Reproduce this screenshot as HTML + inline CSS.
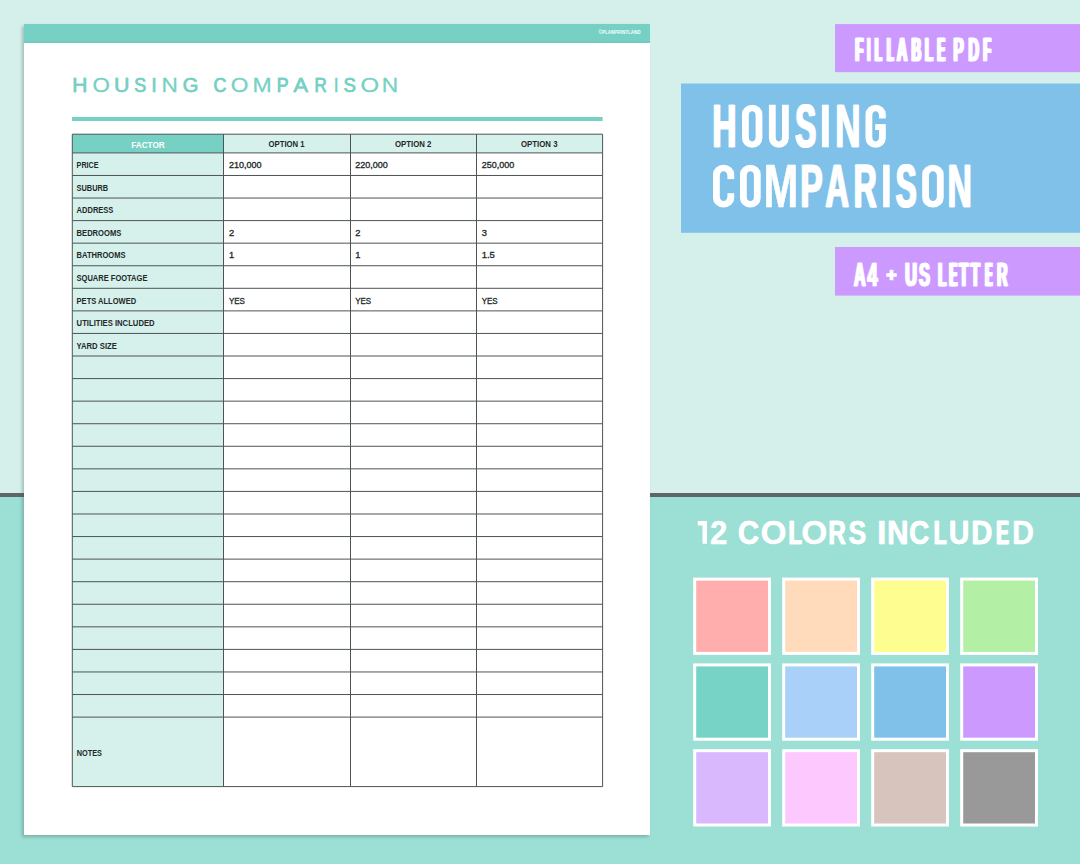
<!DOCTYPE html>
<html><head><meta charset="utf-8"><title>Housing Comparison</title>
<style>
html,body{margin:0;padding:0;}
body{width:1080px;height:864px;overflow:hidden;position:relative;background:#d5f0eb;font-family:"Liberation Sans",sans-serif;}
.abs{position:absolute;}
#bot{left:0;top:497px;width:1080px;height:367px;background:#9cdfd5;}
#line{left:0;top:493px;width:1080px;height:4px;background:#5f6766;}
#page{left:24px;top:24px;width:626px;height:811px;background:#fff;box-shadow:-2px 2px 3px rgba(60,72,72,0.3);}
#bar{left:0;top:0;width:626px;height:18.5px;background:#76d1c4;}
svg{position:absolute;left:0;top:0;}
svg text{font-family:"Liberation Sans",sans-serif;}
</style></head>
<body>
<div class="abs" id="bot"></div>
<div class="abs" id="line"></div>
<div class="abs" id="page"><div class="abs" id="bar"></div></div>
<svg width="1080" height="864" viewBox="0 0 1080 864">
<text x="598.6" y="34.4" font-size="4.5" font-weight="bold" fill="#f4fffd" textLength="42" lengthAdjust="spacingAndGlyphs">©PLANPRINTLAND</text>
<rect x="24" y="41.3" width="626" height="1.1" fill="#6cc6b9" opacity="0.8"/>
<text transform="translate(72.01 91.55) scale(1.0502 1)" font-size="20.20" font-weight="normal" fill="#76d1c4" stroke="#76d1c4" stroke-width="0.3" vector-effect="non-scaling-stroke" stroke-linejoin="round">H</text>
<text transform="translate(72.16 91.55) scale(1.0502 1)" font-size="20.20" font-weight="normal" fill="#76d1c4" stroke="#76d1c4" stroke-width="0.3" vector-effect="non-scaling-stroke" stroke-linejoin="round">H</text>
<text transform="translate(92.39 91.55) scale(1.1062 1)" font-size="20.20" font-weight="normal" fill="#76d1c4" stroke="#76d1c4" stroke-width="0.3" vector-effect="non-scaling-stroke" stroke-linejoin="round">O</text>
<text transform="translate(113.90 91.55) scale(1.0609 1)" font-size="20.20" font-weight="normal" fill="#76d1c4" stroke="#76d1c4" stroke-width="0.3" vector-effect="non-scaling-stroke" stroke-linejoin="round">U</text>
<text transform="translate(114.02 91.55) scale(1.0609 1)" font-size="20.20" font-weight="normal" fill="#76d1c4" stroke="#76d1c4" stroke-width="0.3" vector-effect="non-scaling-stroke" stroke-linejoin="round">U</text>
<text transform="translate(133.92 91.55) scale(0.9005 1)" font-size="20.20" font-weight="normal" fill="#76d1c4" stroke="#76d1c4" stroke-width="0.3" vector-effect="non-scaling-stroke" stroke-linejoin="round">S</text>
<text transform="translate(134.35 91.55) scale(0.9005 1)" font-size="20.20" font-weight="normal" fill="#76d1c4" stroke="#76d1c4" stroke-width="0.3" vector-effect="non-scaling-stroke" stroke-linejoin="round">S</text>
<text transform="translate(150.87 91.55) scale(1.1676 1)" font-size="20.20" font-weight="normal" fill="#76d1c4" stroke="#76d1c4" stroke-width="0.3" vector-effect="non-scaling-stroke" stroke-linejoin="round">I</text>
<text transform="translate(161.60 91.55) scale(1.1191 1)" font-size="20.20" font-weight="normal" fill="#76d1c4" stroke="#76d1c4" stroke-width="0.3" vector-effect="non-scaling-stroke" stroke-linejoin="round">N</text>
<text transform="translate(182.43 91.55) scale(1.0061 1)" font-size="20.20" font-weight="normal" fill="#76d1c4" stroke="#76d1c4" stroke-width="0.3" vector-effect="non-scaling-stroke" stroke-linejoin="round">G</text>
<text transform="translate(182.66 91.55) scale(1.0061 1)" font-size="20.20" font-weight="normal" fill="#76d1c4" stroke="#76d1c4" stroke-width="0.3" vector-effect="non-scaling-stroke" stroke-linejoin="round">G</text>
<text transform="translate(213.24 91.55) scale(0.8870 1)" font-size="20.20" font-weight="normal" fill="#76d1c4" stroke="#76d1c4" stroke-width="0.3" vector-effect="non-scaling-stroke" stroke-linejoin="round">C</text>
<text transform="translate(213.69 91.55) scale(0.8870 1)" font-size="20.20" font-weight="normal" fill="#76d1c4" stroke="#76d1c4" stroke-width="0.3" vector-effect="non-scaling-stroke" stroke-linejoin="round">C</text>
<text transform="translate(230.68 91.55) scale(1.1230 1)" font-size="20.20" font-weight="normal" fill="#76d1c4" stroke="#76d1c4" stroke-width="0.3" vector-effect="non-scaling-stroke" stroke-linejoin="round">O</text>
<text transform="translate(252.56 91.55) scale(1.1395 1)" font-size="20.20" font-weight="normal" fill="#76d1c4" stroke="#76d1c4" stroke-width="0.3" vector-effect="non-scaling-stroke" stroke-linejoin="round">M</text>
<text transform="translate(276.60 91.55) scale(0.8770 1)" font-size="20.20" font-weight="normal" fill="#76d1c4" stroke="#76d1c4" stroke-width="0.3" vector-effect="non-scaling-stroke" stroke-linejoin="round">P</text>
<text transform="translate(277.07 91.55) scale(0.8770 1)" font-size="20.20" font-weight="normal" fill="#76d1c4" stroke="#76d1c4" stroke-width="0.3" vector-effect="non-scaling-stroke" stroke-linejoin="round">P</text>
<text transform="translate(293.31 91.55) scale(1.0920 1)" font-size="20.20" font-weight="normal" fill="#76d1c4" stroke="#76d1c4" stroke-width="0.3" vector-effect="non-scaling-stroke" stroke-linejoin="round">A</text>
<text transform="translate(293.38 91.55) scale(1.0920 1)" font-size="20.20" font-weight="normal" fill="#76d1c4" stroke="#76d1c4" stroke-width="0.3" vector-effect="non-scaling-stroke" stroke-linejoin="round">A</text>
<text transform="translate(314.26 91.55) scale(0.8385 1)" font-size="20.20" font-weight="normal" fill="#76d1c4" stroke="#76d1c4" stroke-width="0.3" vector-effect="non-scaling-stroke" stroke-linejoin="round">R</text>
<text transform="translate(314.80 91.55) scale(0.8385 1)" font-size="20.20" font-weight="normal" fill="#76d1c4" stroke="#76d1c4" stroke-width="0.3" vector-effect="non-scaling-stroke" stroke-linejoin="round">R</text>
<text transform="translate(333.57 91.55) scale(0.9553 1)" font-size="20.20" font-weight="normal" fill="#76d1c4" stroke="#76d1c4" stroke-width="0.3" vector-effect="non-scaling-stroke" stroke-linejoin="round">I</text>
<text transform="translate(343.31 91.55) scale(0.9210 1)" font-size="20.20" font-weight="normal" fill="#76d1c4" stroke="#76d1c4" stroke-width="0.3" vector-effect="non-scaling-stroke" stroke-linejoin="round">S</text>
<text transform="translate(343.69 91.55) scale(0.9210 1)" font-size="20.20" font-weight="normal" fill="#76d1c4" stroke="#76d1c4" stroke-width="0.3" vector-effect="non-scaling-stroke" stroke-linejoin="round">S</text>
<text transform="translate(360.62 91.55) scale(1.1819 1)" font-size="20.20" font-weight="normal" fill="#76d1c4" stroke="#76d1c4" stroke-width="0.3" vector-effect="non-scaling-stroke" stroke-linejoin="round">O</text>
<text transform="translate(381.69 91.55) scale(1.1244 1)" font-size="20.20" font-weight="normal" fill="#76d1c4" stroke="#76d1c4" stroke-width="0.3" vector-effect="non-scaling-stroke" stroke-linejoin="round">N</text>
<rect x="72" y="117" width="530.6" height="4" fill="#76d1c4"/>
<rect x="72.3" y="134.2" width="151.2" height="18.700000000000017" fill="#76d1c4"/>
<rect x="223.5" y="134.2" width="379.1" height="18.700000000000017" fill="#d6f0ec"/>
<rect x="72.3" y="152.9" width="151.2" height="633.7" fill="#d6f0ec"/>
<line x1="72.3" y1="134.20" x2="602.6" y2="134.20" stroke="#4d5554" stroke-width="1.0"/>
<line x1="72.3" y1="152.90" x2="602.6" y2="152.90" stroke="#4d5554" stroke-width="1.0"/>
<line x1="72.3" y1="175.47" x2="602.6" y2="175.47" stroke="#4d5554" stroke-width="1.0"/>
<line x1="72.3" y1="198.04" x2="602.6" y2="198.04" stroke="#4d5554" stroke-width="1.0"/>
<line x1="72.3" y1="220.60" x2="602.6" y2="220.60" stroke="#4d5554" stroke-width="1.0"/>
<line x1="72.3" y1="243.17" x2="602.6" y2="243.17" stroke="#4d5554" stroke-width="1.0"/>
<line x1="72.3" y1="265.74" x2="602.6" y2="265.74" stroke="#4d5554" stroke-width="1.0"/>
<line x1="72.3" y1="288.31" x2="602.6" y2="288.31" stroke="#4d5554" stroke-width="1.0"/>
<line x1="72.3" y1="310.88" x2="602.6" y2="310.88" stroke="#4d5554" stroke-width="1.0"/>
<line x1="72.3" y1="333.44" x2="602.6" y2="333.44" stroke="#4d5554" stroke-width="1.0"/>
<line x1="72.3" y1="356.01" x2="602.6" y2="356.01" stroke="#4d5554" stroke-width="1.0"/>
<line x1="72.3" y1="378.58" x2="602.6" y2="378.58" stroke="#4d5554" stroke-width="1.0"/>
<line x1="72.3" y1="401.15" x2="602.6" y2="401.15" stroke="#4d5554" stroke-width="1.0"/>
<line x1="72.3" y1="423.72" x2="602.6" y2="423.72" stroke="#4d5554" stroke-width="1.0"/>
<line x1="72.3" y1="446.28" x2="602.6" y2="446.28" stroke="#4d5554" stroke-width="1.0"/>
<line x1="72.3" y1="468.85" x2="602.6" y2="468.85" stroke="#4d5554" stroke-width="1.0"/>
<line x1="72.3" y1="491.42" x2="602.6" y2="491.42" stroke="#4d5554" stroke-width="1.0"/>
<line x1="72.3" y1="513.99" x2="602.6" y2="513.99" stroke="#4d5554" stroke-width="1.0"/>
<line x1="72.3" y1="536.56" x2="602.6" y2="536.56" stroke="#4d5554" stroke-width="1.0"/>
<line x1="72.3" y1="559.12" x2="602.6" y2="559.12" stroke="#4d5554" stroke-width="1.0"/>
<line x1="72.3" y1="581.69" x2="602.6" y2="581.69" stroke="#4d5554" stroke-width="1.0"/>
<line x1="72.3" y1="604.26" x2="602.6" y2="604.26" stroke="#4d5554" stroke-width="1.0"/>
<line x1="72.3" y1="626.83" x2="602.6" y2="626.83" stroke="#4d5554" stroke-width="1.0"/>
<line x1="72.3" y1="649.40" x2="602.6" y2="649.40" stroke="#4d5554" stroke-width="1.0"/>
<line x1="72.3" y1="671.96" x2="602.6" y2="671.96" stroke="#4d5554" stroke-width="1.0"/>
<line x1="72.3" y1="694.53" x2="602.6" y2="694.53" stroke="#4d5554" stroke-width="1.0"/>
<line x1="72.3" y1="717.10" x2="602.6" y2="717.10" stroke="#4d5554" stroke-width="1.0"/>
<line x1="72.3" y1="786.60" x2="602.6" y2="786.60" stroke="#4d5554" stroke-width="1.0"/>
<line x1="72.3" y1="134.2" x2="72.3" y2="786.6" stroke="#4d5554" stroke-width="1.0"/>
<line x1="223.5" y1="134.2" x2="223.5" y2="786.6" stroke="#4d5554" stroke-width="1.0"/>
<line x1="350.5" y1="134.2" x2="350.5" y2="786.6" stroke="#4d5554" stroke-width="1.0"/>
<line x1="476.5" y1="134.2" x2="476.5" y2="786.6" stroke="#4d5554" stroke-width="1.0"/>
<line x1="602.6" y1="134.2" x2="602.6" y2="786.6" stroke="#4d5554" stroke-width="1.0"/>
<text x="131.3" y="148" font-size="8.2" font-weight="bold" fill="#ffffff" text-anchor="start" textLength="33.4" lengthAdjust="spacingAndGlyphs">FACTOR</text>
<text x="268.5" y="147.4" font-size="8.2" font-weight="bold" fill="#222a29" text-anchor="start" textLength="36.1" lengthAdjust="spacingAndGlyphs">OPTION 1</text>
<text x="395.0" y="147.4" font-size="8.2" font-weight="bold" fill="#222a29" text-anchor="start" textLength="36.3" lengthAdjust="spacingAndGlyphs">OPTION 2</text>
<text x="521.0" y="147.4" font-size="8.2" font-weight="bold" fill="#222a29" text-anchor="start" textLength="36.5" lengthAdjust="spacingAndGlyphs">OPTION 3</text>
<text x="76.6" y="168.10" font-size="8.2" font-weight="bold" fill="#222a29" text-anchor="start" textLength="22" lengthAdjust="spacingAndGlyphs">PRICE</text>
<text x="228.9" y="168.10" font-size="8.2" font-weight="normal" fill="#222a29" text-anchor="start" textLength="32.6" lengthAdjust="spacingAndGlyphs" stroke="#222a29" stroke-width="0.3">210,000</text>
<text x="355.2" y="168.10" font-size="8.2" font-weight="normal" fill="#222a29" text-anchor="start" textLength="32.6" lengthAdjust="spacingAndGlyphs" stroke="#222a29" stroke-width="0.3">220,000</text>
<text x="481.7" y="168.10" font-size="8.2" font-weight="normal" fill="#222a29" text-anchor="start" textLength="32.6" lengthAdjust="spacingAndGlyphs" stroke="#222a29" stroke-width="0.3">250,000</text>
<text x="76.6" y="190.67" font-size="8.2" font-weight="bold" fill="#222a29" text-anchor="start" textLength="31.5" lengthAdjust="spacingAndGlyphs">SUBURB</text>
<text x="76.6" y="213.24" font-size="8.2" font-weight="bold" fill="#222a29" text-anchor="start" textLength="36.8" lengthAdjust="spacingAndGlyphs">ADDRESS</text>
<text x="76.6" y="235.80" font-size="8.2" font-weight="bold" fill="#222a29" text-anchor="start" textLength="44.7" lengthAdjust="spacingAndGlyphs">BEDROOMS</text>
<text x="228.9" y="235.80" font-size="8.2" font-weight="normal" fill="#222a29" text-anchor="start" textLength="5.2" lengthAdjust="spacingAndGlyphs" stroke="#222a29" stroke-width="0.3">2</text>
<text x="355.2" y="235.80" font-size="8.2" font-weight="normal" fill="#222a29" text-anchor="start" textLength="5.2" lengthAdjust="spacingAndGlyphs" stroke="#222a29" stroke-width="0.3">2</text>
<text x="481.7" y="235.80" font-size="8.2" font-weight="normal" fill="#222a29" text-anchor="start" textLength="5.2" lengthAdjust="spacingAndGlyphs" stroke="#222a29" stroke-width="0.3">3</text>
<text x="76.6" y="258.37" font-size="8.2" font-weight="bold" fill="#222a29" text-anchor="start" textLength="49" lengthAdjust="spacingAndGlyphs">BATHROOMS</text>
<text x="228.9" y="258.37" font-size="8.2" font-weight="normal" fill="#222a29" text-anchor="start" textLength="5.2" lengthAdjust="spacingAndGlyphs" stroke="#222a29" stroke-width="0.3">1</text>
<text x="355.2" y="258.37" font-size="8.2" font-weight="normal" fill="#222a29" text-anchor="start" textLength="5.2" lengthAdjust="spacingAndGlyphs" stroke="#222a29" stroke-width="0.3">1</text>
<text x="481.7" y="258.37" font-size="8.2" font-weight="normal" fill="#222a29" text-anchor="start" textLength="13.2" lengthAdjust="spacingAndGlyphs" stroke="#222a29" stroke-width="0.3">1.5</text>
<text x="76.6" y="280.94" font-size="8.2" font-weight="bold" fill="#222a29" text-anchor="start" textLength="70.8" lengthAdjust="spacingAndGlyphs">SQUARE FOOTAGE</text>
<text x="76.6" y="303.51" font-size="8.2" font-weight="bold" fill="#222a29" text-anchor="start" textLength="59.5" lengthAdjust="spacingAndGlyphs">PETS ALLOWED</text>
<text x="228.9" y="303.51" font-size="8.2" font-weight="normal" fill="#222a29" text-anchor="start" textLength="16.0" lengthAdjust="spacingAndGlyphs" stroke="#222a29" stroke-width="0.3">YES</text>
<text x="355.2" y="303.51" font-size="8.2" font-weight="normal" fill="#222a29" text-anchor="start" textLength="16.0" lengthAdjust="spacingAndGlyphs" stroke="#222a29" stroke-width="0.3">YES</text>
<text x="481.7" y="303.51" font-size="8.2" font-weight="normal" fill="#222a29" text-anchor="start" textLength="16.0" lengthAdjust="spacingAndGlyphs" stroke="#222a29" stroke-width="0.3">YES</text>
<text x="76.6" y="326.08" font-size="8.2" font-weight="bold" fill="#222a29" text-anchor="start" textLength="78" lengthAdjust="spacingAndGlyphs">UTILITIES INCLUDED</text>
<text x="76.6" y="348.64" font-size="8.2" font-weight="bold" fill="#222a29" text-anchor="start" textLength="40.3" lengthAdjust="spacingAndGlyphs">YARD SIZE</text>
<text x="76.7" y="755.7" font-size="8.2" font-weight="bold" fill="#222a29" text-anchor="start" textLength="25.3" lengthAdjust="spacingAndGlyphs">NOTES</text>
<rect x="835" y="24.1" width="245" height="48.1" fill="#cc99ff"/>
<rect x="681" y="83.5" width="399" height="149.3" fill="#80c1ea"/>
<rect x="835" y="247" width="245" height="48.6" fill="#cc99ff"/>
<text transform="translate(854.25 60.60) scale(0.3893 1)" font-size="32.70" font-weight="bold" fill="#ffffff" stroke="#ffffff" stroke-width="0.4" vector-effect="non-scaling-stroke" stroke-linejoin="round">F</text>
<text transform="translate(855.32 60.60) scale(0.3893 1)" font-size="32.70" font-weight="bold" fill="#ffffff" stroke="#ffffff" stroke-width="0.4" vector-effect="non-scaling-stroke" stroke-linejoin="round">F</text>
<text transform="translate(856.39 60.60) scale(0.3893 1)" font-size="32.70" font-weight="bold" fill="#ffffff" stroke="#ffffff" stroke-width="0.4" vector-effect="non-scaling-stroke" stroke-linejoin="round">F</text>
<text transform="translate(865.62 60.60) scale(0.7217 1)" font-size="32.70" font-weight="bold" fill="#ffffff" stroke="#ffffff" stroke-width="0.4" vector-effect="non-scaling-stroke" stroke-linejoin="round">I</text>
<text transform="translate(873.79 60.60) scale(0.3248 1)" font-size="32.70" font-weight="bold" fill="#ffffff" stroke="#ffffff" stroke-width="0.4" vector-effect="non-scaling-stroke" stroke-linejoin="round">L</text>
<text transform="translate(875.01 60.60) scale(0.3248 1)" font-size="32.70" font-weight="bold" fill="#ffffff" stroke="#ffffff" stroke-width="0.4" vector-effect="non-scaling-stroke" stroke-linejoin="round">L</text>
<text transform="translate(876.24 60.60) scale(0.3248 1)" font-size="32.70" font-weight="bold" fill="#ffffff" stroke="#ffffff" stroke-width="0.4" vector-effect="non-scaling-stroke" stroke-linejoin="round">L</text>
<text transform="translate(886.06 60.60) scale(0.2915 1)" font-size="32.70" font-weight="bold" fill="#ffffff" stroke="#ffffff" stroke-width="0.4" vector-effect="non-scaling-stroke" stroke-linejoin="round">L</text>
<text transform="translate(887.37 60.60) scale(0.2915 1)" font-size="32.70" font-weight="bold" fill="#ffffff" stroke="#ffffff" stroke-width="0.4" vector-effect="non-scaling-stroke" stroke-linejoin="round">L</text>
<text transform="translate(888.67 60.60) scale(0.2915 1)" font-size="32.70" font-weight="bold" fill="#ffffff" stroke="#ffffff" stroke-width="0.4" vector-effect="non-scaling-stroke" stroke-linejoin="round">L</text>
<text transform="translate(896.05 60.60) scale(0.4311 1)" font-size="32.70" font-weight="bold" fill="#ffffff" stroke="#ffffff" stroke-width="0.4" vector-effect="non-scaling-stroke" stroke-linejoin="round">A</text>
<text transform="translate(897.02 60.60) scale(0.4311 1)" font-size="32.70" font-weight="bold" fill="#ffffff" stroke="#ffffff" stroke-width="0.4" vector-effect="non-scaling-stroke" stroke-linejoin="round">A</text>
<text transform="translate(897.99 60.60) scale(0.4311 1)" font-size="32.70" font-weight="bold" fill="#ffffff" stroke="#ffffff" stroke-width="0.4" vector-effect="non-scaling-stroke" stroke-linejoin="round">A</text>
<text transform="translate(910.58 60.60) scale(0.3988 1)" font-size="32.70" font-weight="bold" fill="#ffffff" stroke="#ffffff" stroke-width="0.4" vector-effect="non-scaling-stroke" stroke-linejoin="round">B</text>
<text transform="translate(911.63 60.60) scale(0.3988 1)" font-size="32.70" font-weight="bold" fill="#ffffff" stroke="#ffffff" stroke-width="0.4" vector-effect="non-scaling-stroke" stroke-linejoin="round">B</text>
<text transform="translate(912.67 60.60) scale(0.3988 1)" font-size="32.70" font-weight="bold" fill="#ffffff" stroke="#ffffff" stroke-width="0.4" vector-effect="non-scaling-stroke" stroke-linejoin="round">B</text>
<text transform="translate(923.93 60.60) scale(0.3956 1)" font-size="32.70" font-weight="bold" fill="#ffffff" stroke="#ffffff" stroke-width="0.4" vector-effect="non-scaling-stroke" stroke-linejoin="round">L</text>
<text transform="translate(924.99 60.60) scale(0.3956 1)" font-size="32.70" font-weight="bold" fill="#ffffff" stroke="#ffffff" stroke-width="0.4" vector-effect="non-scaling-stroke" stroke-linejoin="round">L</text>
<text transform="translate(926.05 60.60) scale(0.3956 1)" font-size="32.70" font-weight="bold" fill="#ffffff" stroke="#ffffff" stroke-width="0.4" vector-effect="non-scaling-stroke" stroke-linejoin="round">L</text>
<text transform="translate(936.14 60.60) scale(0.3463 1)" font-size="32.70" font-weight="bold" fill="#ffffff" stroke="#ffffff" stroke-width="0.4" vector-effect="non-scaling-stroke" stroke-linejoin="round">E</text>
<text transform="translate(937.32 60.60) scale(0.3463 1)" font-size="32.70" font-weight="bold" fill="#ffffff" stroke="#ffffff" stroke-width="0.4" vector-effect="non-scaling-stroke" stroke-linejoin="round">E</text>
<text transform="translate(938.49 60.60) scale(0.3463 1)" font-size="32.70" font-weight="bold" fill="#ffffff" stroke="#ffffff" stroke-width="0.4" vector-effect="non-scaling-stroke" stroke-linejoin="round">E</text>
<text transform="translate(952.46 60.60) scale(0.4733 1)" font-size="32.70" font-weight="bold" fill="#ffffff" stroke="#ffffff" stroke-width="0.4" vector-effect="non-scaling-stroke" stroke-linejoin="round">P</text>
<text transform="translate(953.33 60.60) scale(0.4733 1)" font-size="32.70" font-weight="bold" fill="#ffffff" stroke="#ffffff" stroke-width="0.4" vector-effect="non-scaling-stroke" stroke-linejoin="round">P</text>
<text transform="translate(954.20 60.60) scale(0.4733 1)" font-size="32.70" font-weight="bold" fill="#ffffff" stroke="#ffffff" stroke-width="0.4" vector-effect="non-scaling-stroke" stroke-linejoin="round">P</text>
<text transform="translate(967.51 60.60) scale(0.4515 1)" font-size="32.70" font-weight="bold" fill="#ffffff" stroke="#ffffff" stroke-width="0.4" vector-effect="non-scaling-stroke" stroke-linejoin="round">D</text>
<text transform="translate(968.43 60.60) scale(0.4515 1)" font-size="32.70" font-weight="bold" fill="#ffffff" stroke="#ffffff" stroke-width="0.4" vector-effect="non-scaling-stroke" stroke-linejoin="round">D</text>
<text transform="translate(969.36 60.60) scale(0.4515 1)" font-size="32.70" font-weight="bold" fill="#ffffff" stroke="#ffffff" stroke-width="0.4" vector-effect="non-scaling-stroke" stroke-linejoin="round">D</text>
<text transform="translate(982.29 60.60) scale(0.3724 1)" font-size="32.70" font-weight="bold" fill="#ffffff" stroke="#ffffff" stroke-width="0.4" vector-effect="non-scaling-stroke" stroke-linejoin="round">F</text>
<text transform="translate(983.40 60.60) scale(0.3724 1)" font-size="32.70" font-weight="bold" fill="#ffffff" stroke="#ffffff" stroke-width="0.4" vector-effect="non-scaling-stroke" stroke-linejoin="round">F</text>
<text transform="translate(984.51 60.60) scale(0.3724 1)" font-size="32.70" font-weight="bold" fill="#ffffff" stroke="#ffffff" stroke-width="0.4" vector-effect="non-scaling-stroke" stroke-linejoin="round">F</text>
<text transform="translate(711.87 147.40) scale(0.5423 1)" font-size="61.34" font-weight="bold" fill="#ffffff" stroke="#ffffff" stroke-width="0.6" vector-effect="non-scaling-stroke" stroke-linejoin="round">H</text>
<text transform="translate(713.02 147.40) scale(0.5423 1)" font-size="61.34" font-weight="bold" fill="#ffffff" stroke="#ffffff" stroke-width="0.6" vector-effect="non-scaling-stroke" stroke-linejoin="round">H</text>
<text transform="translate(794.50 147.40) scale(0.5109 1)" font-size="61.34" font-weight="bold" fill="#ffffff" stroke="#ffffff" stroke-width="0.6" vector-effect="non-scaling-stroke" stroke-linejoin="round">S</text>
<text transform="translate(795.92 147.40) scale(0.5109 1)" font-size="61.34" font-weight="bold" fill="#ffffff" stroke="#ffffff" stroke-width="0.6" vector-effect="non-scaling-stroke" stroke-linejoin="round">S</text>
<text transform="translate(819.37 147.40) scale(0.7130 1)" font-size="61.34" font-weight="bold" fill="#ffffff" stroke="#ffffff" stroke-width="0.6" vector-effect="non-scaling-stroke" stroke-linejoin="round">I</text>
<text transform="translate(834.74 147.40) scale(0.5755 1)" font-size="61.34" font-weight="bold" fill="#ffffff" stroke="#ffffff" stroke-width="0.6" vector-effect="non-scaling-stroke" stroke-linejoin="round">N</text>
<text transform="translate(835.58 147.40) scale(0.5755 1)" font-size="61.34" font-weight="bold" fill="#ffffff" stroke="#ffffff" stroke-width="0.6" vector-effect="non-scaling-stroke" stroke-linejoin="round">N</text>
<path d="M742.00 114.30A10.20 9.50 0 0 1 752.20 104.80H752.20A10.20 9.50 0 0 1 762.40 114.30V138.30A10.20 9.50 0 0 1 752.20 147.80H752.20A10.20 9.50 0 0 1 742.00 138.30ZM748.80 115.80A3.40 4.60 0 0 1 752.20 111.20H752.20A3.40 4.60 0 0 1 755.60 115.80V136.80A3.40 4.60 0 0 1 752.20 141.40H752.20A3.40 4.60 0 0 1 748.80 136.80Z" fill="#ffffff" fill-rule="evenodd"/>
<path d="M768.90 104.80V138.30A9.95 9.50 0 0 0 778.85 147.80A9.95 9.50 0 0 0 788.80 138.30V104.80H782.00V136.80A3.15 4.60 0 0 1 778.85 141.40A3.15 4.60 0 0 1 775.70 136.80V104.80Z" fill="#ffffff"/>
<path d="M865.50 114.30A10.15 9.50 0 0 1 875.65 104.80H875.65A10.15 9.50 0 0 1 885.80 114.30V138.30A10.15 9.50 0 0 1 875.65 147.80H875.65A10.15 9.50 0 0 1 865.50 138.30ZM872.30 115.80A3.35 4.60 0 0 1 875.65 111.20H875.65A3.35 4.60 0 0 1 879.00 115.80V136.80A3.35 4.60 0 0 1 875.65 141.40H875.65A3.35 4.60 0 0 1 872.30 136.80Z" fill="#ffffff" fill-rule="evenodd"/>
<rect x="877.50" y="118.47" width="9.30" height="5.63" fill="#80c1ea"/>
<rect x="875.18" y="124.11" width="4.02" height="5.89" fill="#ffffff"/>
<text transform="translate(763.41 207.10) scale(0.6857 1)" font-size="60.90" font-weight="bold" fill="#ffffff" stroke="#ffffff" stroke-width="0.6" vector-effect="non-scaling-stroke" stroke-linejoin="round">M</text>
<text transform="translate(799.65 207.10) scale(0.5513 1)" font-size="60.90" font-weight="bold" fill="#ffffff" stroke="#ffffff" stroke-width="0.6" vector-effect="non-scaling-stroke" stroke-linejoin="round">P</text>
<text transform="translate(800.75 207.10) scale(0.5513 1)" font-size="60.90" font-weight="bold" fill="#ffffff" stroke="#ffffff" stroke-width="0.6" vector-effect="non-scaling-stroke" stroke-linejoin="round">P</text>
<text transform="translate(824.69 207.10) scale(0.5349 1)" font-size="60.90" font-weight="bold" fill="#ffffff" stroke="#ffffff" stroke-width="0.6" vector-effect="non-scaling-stroke" stroke-linejoin="round">A</text>
<text transform="translate(825.93 207.10) scale(0.5349 1)" font-size="60.90" font-weight="bold" fill="#ffffff" stroke="#ffffff" stroke-width="0.6" vector-effect="non-scaling-stroke" stroke-linejoin="round">A</text>
<text transform="translate(852.96 207.10) scale(0.5241 1)" font-size="60.90" font-weight="bold" fill="#ffffff" stroke="#ffffff" stroke-width="0.6" vector-effect="non-scaling-stroke" stroke-linejoin="round">R</text>
<text transform="translate(854.31 207.10) scale(0.5241 1)" font-size="60.90" font-weight="bold" fill="#ffffff" stroke="#ffffff" stroke-width="0.6" vector-effect="non-scaling-stroke" stroke-linejoin="round">R</text>
<text transform="translate(880.51 207.10) scale(0.6840 1)" font-size="60.90" font-weight="bold" fill="#ffffff" stroke="#ffffff" stroke-width="0.6" vector-effect="non-scaling-stroke" stroke-linejoin="round">I</text>
<text transform="translate(895.00 207.10) scale(0.5109 1)" font-size="60.90" font-weight="bold" fill="#ffffff" stroke="#ffffff" stroke-width="0.6" vector-effect="non-scaling-stroke" stroke-linejoin="round">S</text>
<text transform="translate(896.46 207.10) scale(0.5109 1)" font-size="60.90" font-weight="bold" fill="#ffffff" stroke="#ffffff" stroke-width="0.6" vector-effect="non-scaling-stroke" stroke-linejoin="round">S</text>
<text transform="translate(946.94 207.10) scale(0.5537 1)" font-size="60.90" font-weight="bold" fill="#ffffff" stroke="#ffffff" stroke-width="0.6" vector-effect="non-scaling-stroke" stroke-linejoin="round">N</text>
<text transform="translate(948.02 207.10) scale(0.5537 1)" font-size="60.90" font-weight="bold" fill="#ffffff" stroke="#ffffff" stroke-width="0.6" vector-effect="non-scaling-stroke" stroke-linejoin="round">N</text>
<path d="M713.00 174.30A10.60 9.50 0 0 1 723.60 164.80H723.60A10.60 9.50 0 0 1 734.20 174.30V198.00A10.60 9.50 0 0 1 723.60 207.50H723.60A10.60 9.50 0 0 1 713.00 198.00ZM719.80 175.80A3.80 4.60 0 0 1 723.60 171.20H723.60A3.80 4.60 0 0 1 727.40 175.80V196.50A3.80 4.60 0 0 1 723.60 201.10H723.60A3.80 4.60 0 0 1 719.80 196.50Z" fill="#ffffff" fill-rule="evenodd"/>
<rect x="725.90" y="179.10" width="9.30" height="14.09" fill="#80c1ea"/>
<path d="M740.00 174.30A10.35 9.50 0 0 1 750.35 164.80H750.35A10.35 9.50 0 0 1 760.70 174.30V198.00A10.35 9.50 0 0 1 750.35 207.50H750.35A10.35 9.50 0 0 1 740.00 198.00ZM746.80 175.80A3.55 4.60 0 0 1 750.35 171.20H750.35A3.55 4.60 0 0 1 753.90 175.80V196.50A3.55 4.60 0 0 1 750.35 201.10H750.35A3.55 4.60 0 0 1 746.80 196.50Z" fill="#ffffff" fill-rule="evenodd"/>
<path d="M922.20 174.30A10.75 9.50 0 0 1 932.95 164.80H932.95A10.75 9.50 0 0 1 943.70 174.30V198.00A10.75 9.50 0 0 1 932.95 207.50H932.95A10.75 9.50 0 0 1 922.20 198.00ZM929.00 175.80A3.95 4.60 0 0 1 932.95 171.20H932.95A3.95 4.60 0 0 1 936.90 175.80V196.50A3.95 4.60 0 0 1 932.95 201.10H932.95A3.95 4.60 0 0 1 929.00 196.50Z" fill="#ffffff" fill-rule="evenodd"/>
<text transform="translate(853.31 285.80) scale(0.4777 1)" font-size="32.70" font-weight="bold" fill="#ffffff" stroke="#ffffff" stroke-width="0.4" vector-effect="non-scaling-stroke" stroke-linejoin="round">A</text>
<text transform="translate(854.17 285.80) scale(0.4777 1)" font-size="32.70" font-weight="bold" fill="#ffffff" stroke="#ffffff" stroke-width="0.4" vector-effect="non-scaling-stroke" stroke-linejoin="round">A</text>
<text transform="translate(855.03 285.80) scale(0.4777 1)" font-size="32.70" font-weight="bold" fill="#ffffff" stroke="#ffffff" stroke-width="0.4" vector-effect="non-scaling-stroke" stroke-linejoin="round">A</text>
<text transform="translate(866.83 285.80) scale(0.5493 1)" font-size="32.70" font-weight="bold" fill="#ffffff" stroke="#ffffff" stroke-width="0.4" vector-effect="non-scaling-stroke" stroke-linejoin="round">4</text>
<text transform="translate(868.21 285.80) scale(0.5493 1)" font-size="32.70" font-weight="bold" fill="#ffffff" stroke="#ffffff" stroke-width="0.4" vector-effect="non-scaling-stroke" stroke-linejoin="round">4</text>
<text transform="translate(904.32 285.80) scale(0.4972 1)" font-size="32.70" font-weight="bold" fill="#ffffff" stroke="#ffffff" stroke-width="0.4" vector-effect="non-scaling-stroke" stroke-linejoin="round">U</text>
<text transform="translate(905.14 285.80) scale(0.4972 1)" font-size="32.70" font-weight="bold" fill="#ffffff" stroke="#ffffff" stroke-width="0.4" vector-effect="non-scaling-stroke" stroke-linejoin="round">U</text>
<text transform="translate(905.95 285.80) scale(0.4972 1)" font-size="32.70" font-weight="bold" fill="#ffffff" stroke="#ffffff" stroke-width="0.4" vector-effect="non-scaling-stroke" stroke-linejoin="round">U</text>
<text transform="translate(918.23 285.80) scale(0.4994 1)" font-size="32.70" font-weight="bold" fill="#ffffff" stroke="#ffffff" stroke-width="0.4" vector-effect="non-scaling-stroke" stroke-linejoin="round">S</text>
<text transform="translate(919.04 285.80) scale(0.4994 1)" font-size="32.70" font-weight="bold" fill="#ffffff" stroke="#ffffff" stroke-width="0.4" vector-effect="non-scaling-stroke" stroke-linejoin="round">S</text>
<text transform="translate(919.85 285.80) scale(0.4994 1)" font-size="32.70" font-weight="bold" fill="#ffffff" stroke="#ffffff" stroke-width="0.4" vector-effect="non-scaling-stroke" stroke-linejoin="round">S</text>
<text transform="translate(937.26 285.80) scale(0.3831 1)" font-size="32.70" font-weight="bold" fill="#ffffff" stroke="#ffffff" stroke-width="0.4" vector-effect="non-scaling-stroke" stroke-linejoin="round">L</text>
<text transform="translate(938.35 285.80) scale(0.3831 1)" font-size="32.70" font-weight="bold" fill="#ffffff" stroke="#ffffff" stroke-width="0.4" vector-effect="non-scaling-stroke" stroke-linejoin="round">L</text>
<text transform="translate(939.43 285.80) scale(0.3831 1)" font-size="32.70" font-weight="bold" fill="#ffffff" stroke="#ffffff" stroke-width="0.4" vector-effect="non-scaling-stroke" stroke-linejoin="round">L</text>
<text transform="translate(948.36 285.80) scale(0.3389 1)" font-size="32.70" font-weight="bold" fill="#ffffff" stroke="#ffffff" stroke-width="0.4" vector-effect="non-scaling-stroke" stroke-linejoin="round">E</text>
<text transform="translate(949.55 285.80) scale(0.3389 1)" font-size="32.70" font-weight="bold" fill="#ffffff" stroke="#ffffff" stroke-width="0.4" vector-effect="non-scaling-stroke" stroke-linejoin="round">E</text>
<text transform="translate(950.74 285.80) scale(0.3389 1)" font-size="32.70" font-weight="bold" fill="#ffffff" stroke="#ffffff" stroke-width="0.4" vector-effect="non-scaling-stroke" stroke-linejoin="round">E</text>
<text transform="translate(958.33 285.80) scale(0.4626 1)" font-size="32.70" font-weight="bold" fill="#ffffff" stroke="#ffffff" stroke-width="0.4" vector-effect="non-scaling-stroke" stroke-linejoin="round">T</text>
<text transform="translate(959.23 285.80) scale(0.4626 1)" font-size="32.70" font-weight="bold" fill="#ffffff" stroke="#ffffff" stroke-width="0.4" vector-effect="non-scaling-stroke" stroke-linejoin="round">T</text>
<text transform="translate(960.12 285.80) scale(0.4626 1)" font-size="32.70" font-weight="bold" fill="#ffffff" stroke="#ffffff" stroke-width="0.4" vector-effect="non-scaling-stroke" stroke-linejoin="round">T</text>
<text transform="translate(969.73 285.80) scale(0.4626 1)" font-size="32.70" font-weight="bold" fill="#ffffff" stroke="#ffffff" stroke-width="0.4" vector-effect="non-scaling-stroke" stroke-linejoin="round">T</text>
<text transform="translate(970.63 285.80) scale(0.4626 1)" font-size="32.70" font-weight="bold" fill="#ffffff" stroke="#ffffff" stroke-width="0.4" vector-effect="non-scaling-stroke" stroke-linejoin="round">T</text>
<text transform="translate(971.52 285.80) scale(0.4626 1)" font-size="32.70" font-weight="bold" fill="#ffffff" stroke="#ffffff" stroke-width="0.4" vector-effect="non-scaling-stroke" stroke-linejoin="round">T</text>
<text transform="translate(984.27 285.80) scale(0.2873 1)" font-size="32.70" font-weight="bold" fill="#ffffff" stroke="#ffffff" stroke-width="0.4" vector-effect="non-scaling-stroke" stroke-linejoin="round">E</text>
<text transform="translate(985.59 285.80) scale(0.2873 1)" font-size="32.70" font-weight="bold" fill="#ffffff" stroke="#ffffff" stroke-width="0.4" vector-effect="non-scaling-stroke" stroke-linejoin="round">E</text>
<text transform="translate(986.90 285.80) scale(0.2873 1)" font-size="32.70" font-weight="bold" fill="#ffffff" stroke="#ffffff" stroke-width="0.4" vector-effect="non-scaling-stroke" stroke-linejoin="round">E</text>
<text transform="translate(996.14 285.80) scale(0.4379 1)" font-size="32.70" font-weight="bold" fill="#ffffff" stroke="#ffffff" stroke-width="0.4" vector-effect="non-scaling-stroke" stroke-linejoin="round">R</text>
<text transform="translate(997.10 285.80) scale(0.4379 1)" font-size="32.70" font-weight="bold" fill="#ffffff" stroke="#ffffff" stroke-width="0.4" vector-effect="non-scaling-stroke" stroke-linejoin="round">R</text>
<text transform="translate(998.05 285.80) scale(0.4379 1)" font-size="32.70" font-weight="bold" fill="#ffffff" stroke="#ffffff" stroke-width="0.4" vector-effect="non-scaling-stroke" stroke-linejoin="round">R</text>
<path d="M889.6 269.8h3.8v3.4h3.4v3.6h-3.4v3.4h-3.8v-3.4h-3.4v-3.6h3.4z" fill="#ffffff"/>
<text transform="translate(709.96 543.65) scale(0.9590 1)" font-size="32.70" font-weight="bold" fill="#ffffff" stroke="#ffffff" stroke-width="0.3" vector-effect="non-scaling-stroke" stroke-linejoin="round">2</text>
<text transform="translate(737.85 543.65) scale(0.8972 1)" font-size="32.70" font-weight="bold" fill="#ffffff" stroke="#ffffff" stroke-width="0.3" vector-effect="non-scaling-stroke" stroke-linejoin="round">C</text>
<text transform="translate(737.96 543.65) scale(0.8972 1)" font-size="32.70" font-weight="bold" fill="#ffffff" stroke="#ffffff" stroke-width="0.3" vector-effect="non-scaling-stroke" stroke-linejoin="round">C</text>
<text transform="translate(760.47 543.65) scale(1.0254 1)" font-size="32.70" font-weight="bold" fill="#ffffff" stroke="#ffffff" stroke-width="0.3" vector-effect="non-scaling-stroke" stroke-linejoin="round">O</text>
<text transform="translate(787.91 543.65) scale(0.6579 1)" font-size="32.70" font-weight="bold" fill="#ffffff" stroke="#ffffff" stroke-width="0.3" vector-effect="non-scaling-stroke" stroke-linejoin="round">L</text>
<text transform="translate(789.17 543.65) scale(0.6579 1)" font-size="32.70" font-weight="bold" fill="#ffffff" stroke="#ffffff" stroke-width="0.3" vector-effect="non-scaling-stroke" stroke-linejoin="round">L</text>
<text transform="translate(801.37 543.65) scale(1.0254 1)" font-size="32.70" font-weight="bold" fill="#ffffff" stroke="#ffffff" stroke-width="0.3" vector-effect="non-scaling-stroke" stroke-linejoin="round">O</text>
<text transform="translate(827.94 543.65) scale(0.7382 1)" font-size="32.70" font-weight="bold" fill="#ffffff" stroke="#ffffff" stroke-width="0.3" vector-effect="non-scaling-stroke" stroke-linejoin="round">R</text>
<text transform="translate(828.81 543.65) scale(0.7382 1)" font-size="32.70" font-weight="bold" fill="#ffffff" stroke="#ffffff" stroke-width="0.3" vector-effect="non-scaling-stroke" stroke-linejoin="round">R</text>
<text transform="translate(848.29 543.65) scale(0.8098 1)" font-size="32.70" font-weight="bold" fill="#ffffff" stroke="#ffffff" stroke-width="0.3" vector-effect="non-scaling-stroke" stroke-linejoin="round">S</text>
<text transform="translate(848.82 543.65) scale(0.8098 1)" font-size="32.70" font-weight="bold" fill="#ffffff" stroke="#ffffff" stroke-width="0.3" vector-effect="non-scaling-stroke" stroke-linejoin="round">S</text>
<text transform="translate(876.64 543.65) scale(1.1038 1)" font-size="32.70" font-weight="bold" fill="#ffffff" stroke="#ffffff" stroke-width="0.3" vector-effect="non-scaling-stroke" stroke-linejoin="round">I</text>
<text transform="translate(887.07 543.65) scale(0.9065 1)" font-size="32.70" font-weight="bold" fill="#ffffff" stroke="#ffffff" stroke-width="0.3" vector-effect="non-scaling-stroke" stroke-linejoin="round">N</text>
<text transform="translate(887.14 543.65) scale(0.9065 1)" font-size="32.70" font-weight="bold" fill="#ffffff" stroke="#ffffff" stroke-width="0.3" vector-effect="non-scaling-stroke" stroke-linejoin="round">N</text>
<text transform="translate(909.00 543.65) scale(0.8550 1)" font-size="32.70" font-weight="bold" fill="#ffffff" stroke="#ffffff" stroke-width="0.3" vector-effect="non-scaling-stroke" stroke-linejoin="round">C</text>
<text transform="translate(909.32 543.65) scale(0.8550 1)" font-size="32.70" font-weight="bold" fill="#ffffff" stroke="#ffffff" stroke-width="0.3" vector-effect="non-scaling-stroke" stroke-linejoin="round">C</text>
<text transform="translate(933.17 543.65) scale(0.6329 1)" font-size="32.70" font-weight="bold" fill="#ffffff" stroke="#ffffff" stroke-width="0.3" vector-effect="non-scaling-stroke" stroke-linejoin="round">L</text>
<text transform="translate(934.54 543.65) scale(0.6329 1)" font-size="32.70" font-weight="bold" fill="#ffffff" stroke="#ffffff" stroke-width="0.3" vector-effect="non-scaling-stroke" stroke-linejoin="round">L</text>
<text transform="translate(948.65 543.65) scale(0.8668 1)" font-size="32.70" font-weight="bold" fill="#ffffff" stroke="#ffffff" stroke-width="0.3" vector-effect="non-scaling-stroke" stroke-linejoin="round">U</text>
<text transform="translate(948.91 543.65) scale(0.8668 1)" font-size="32.70" font-weight="bold" fill="#ffffff" stroke="#ffffff" stroke-width="0.3" vector-effect="non-scaling-stroke" stroke-linejoin="round">U</text>
<text transform="translate(971.07 543.65) scale(0.9030 1)" font-size="32.70" font-weight="bold" fill="#ffffff" stroke="#ffffff" stroke-width="0.3" vector-effect="non-scaling-stroke" stroke-linejoin="round">D</text>
<text transform="translate(971.16 543.65) scale(0.9030 1)" font-size="32.70" font-weight="bold" fill="#ffffff" stroke="#ffffff" stroke-width="0.3" vector-effect="non-scaling-stroke" stroke-linejoin="round">D</text>
<text transform="translate(995.39 543.65) scale(0.5747 1)" font-size="32.70" font-weight="bold" fill="#ffffff" stroke="#ffffff" stroke-width="0.3" vector-effect="non-scaling-stroke" stroke-linejoin="round">E</text>
<text transform="translate(996.22 543.65) scale(0.5747 1)" font-size="32.70" font-weight="bold" fill="#ffffff" stroke="#ffffff" stroke-width="0.3" vector-effect="non-scaling-stroke" stroke-linejoin="round">E</text>
<text transform="translate(997.05 543.65) scale(0.5747 1)" font-size="32.70" font-weight="bold" fill="#ffffff" stroke="#ffffff" stroke-width="0.3" vector-effect="non-scaling-stroke" stroke-linejoin="round">E</text>
<text transform="translate(1012.11 543.65) scale(0.9324 1)" font-size="32.70" font-weight="bold" fill="#ffffff" stroke="#ffffff" stroke-width="0.3" vector-effect="non-scaling-stroke" stroke-linejoin="round">D</text>
<path d="M697.8 521h9.2v22.8h-4.5v-18.3h-4.7z" fill="#ffffff"/>
<rect x="694.70" y="579.10" width="74.8" height="74.3" fill="#ffadad" stroke="#ffffff" stroke-width="3"/>
<rect x="783.70" y="579.10" width="74.8" height="74.3" fill="#ffdbbb" stroke="#ffffff" stroke-width="3"/>
<rect x="872.70" y="579.10" width="74.8" height="74.3" fill="#fefe90" stroke="#ffffff" stroke-width="3"/>
<rect x="961.70" y="579.10" width="74.8" height="74.3" fill="#b3f0a5" stroke="#ffffff" stroke-width="3"/>
<rect x="694.70" y="664.90" width="74.8" height="74.3" fill="#77d3c5" stroke="#ffffff" stroke-width="3"/>
<rect x="783.70" y="664.90" width="74.8" height="74.3" fill="#a8d0f8" stroke="#ffffff" stroke-width="3"/>
<rect x="872.70" y="664.90" width="74.8" height="74.3" fill="#80c1ea" stroke="#ffffff" stroke-width="3"/>
<rect x="961.70" y="664.90" width="74.8" height="74.3" fill="#cc99ff" stroke="#ffffff" stroke-width="3"/>
<rect x="694.70" y="750.70" width="74.8" height="74.3" fill="#d9b8fe" stroke="#ffffff" stroke-width="3"/>
<rect x="783.70" y="750.70" width="74.8" height="74.3" fill="#fdc8fd" stroke="#ffffff" stroke-width="3"/>
<rect x="872.70" y="750.70" width="74.8" height="74.3" fill="#d7c4bc" stroke="#ffffff" stroke-width="3"/>
<rect x="961.70" y="750.70" width="74.8" height="74.3" fill="#999999" stroke="#ffffff" stroke-width="3"/>
</svg>
</body></html>
